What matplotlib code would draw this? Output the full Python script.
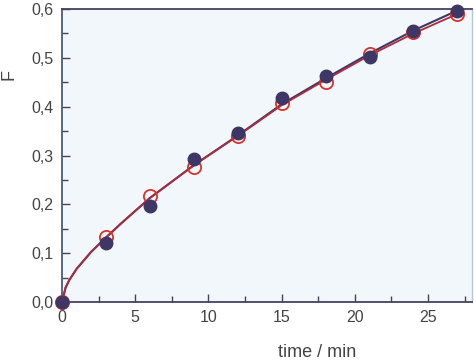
import matplotlib
matplotlib.use("Agg")
import matplotlib.pyplot as plt
from matplotlib.ticker import MultipleLocator, FuncFormatter

plt.rcParams['font.family'] = ['Liberation Sans', 'DejaVu Sans']

# Measured data
t_pts = [0, 3, 6, 9, 12, 15, 18, 21, 24, 27]
F_filled = [0.0, 0.121, 0.197, 0.293, 0.346, 0.418, 0.463, 0.502, 0.555, 0.595]
F_open = [0.0, 0.133, 0.218, 0.277, 0.340, 0.408, 0.451, 0.508, 0.553, 0.589]

# Fitted curves
t_curve = [0, 0.25, 0.5, 1, 2, 3, 4, 6, 9, 12, 15, 18, 21, 24, 27]
F_curve_navy = [0, 0.030, 0.045, 0.068, 0.103, 0.132, 0.160, 0.213, 0.280, 0.341, 0.405, 0.458, 0.509, 0.556, 0.597]
F_curve_red = [0, 0.030, 0.045, 0.068, 0.103, 0.132, 0.160, 0.213, 0.280, 0.340, 0.403, 0.455, 0.505, 0.550, 0.590]

x_label = "time / min"
y_label = "F"

navy = '#3e3766'
red = '#d8322a'

fig = plt.figure(figsize=(4.74, 3.62), dpi=100)
ax = fig.add_axes([0.1308, 0.1657, 0.8650, 0.8093])
ax.set_facecolor('#f2f7fc')

ax.plot(t_curve, F_curve_navy, color=navy, lw=1.5, zorder=2)
ax.plot(t_curve, F_curve_red, color='#b02a3a', lw=1.3, zorder=2)
ax.plot(t_pts, F_open, 'o', mfc='none', mec=red, mew=1.3, ms=9.5, zorder=3, clip_on=False)
ax.plot(t_pts, F_filled, 'o', color=navy, ms=9, zorder=4, clip_on=False)

ax.set_xlim(0, 28)
ax.set_ylim(0, 0.6)
ax.xaxis.set_major_locator(MultipleLocator(5))
ax.xaxis.set_minor_locator(MultipleLocator(2.5))
ax.yaxis.set_major_locator(MultipleLocator(0.1))
ax.yaxis.set_minor_locator(MultipleLocator(0.05))
ax.yaxis.set_major_formatter(FuncFormatter(lambda v, p: f"{v:.1f}".replace('.', ',')))

spine_c = '#45425f'
for s in ['left', 'bottom', 'top']:
    ax.spines[s].set_color(spine_c)
    ax.spines[s].set_linewidth(1.3)
ax.spines['left'].set_color('#4f5a78')
ax.spines['right'].set_color('#b8c4d8')
ax.spines['right'].set_linewidth(1.0)

ax.tick_params(which='both', direction='in', color=spine_c, labelcolor='#444444',
               labelsize=11.5, top=False, right=False, width=1.0)
ax.tick_params(which='major', length=6, pad=6)
ax.tick_params(which='minor', length=4)

ax.set_xlabel(x_label, fontsize=13, color='#444444')
ax.xaxis.set_label_coords(0.622, -0.142)
ax.set_ylabel(y_label, fontsize=13, color='#444444')
ax.yaxis.set_label_coords(-0.108, 0.778)

fig.savefig('out.png', dpi=100)
